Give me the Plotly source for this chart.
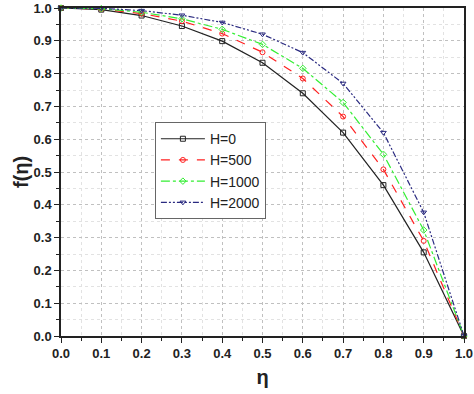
import plotly.graph_objects as go

eta = [0.0, 0.1, 0.2, 0.3, 0.4, 0.5, 0.6, 0.7, 0.8, 0.9, 1.0]
f_H0 = [1.0, 0.995, 0.977, 0.945, 0.899, 0.833, 0.740, 0.620, 0.460, 0.255, 0.0]
f_H500 = [1.0, 0.997, 0.983, 0.960, 0.922, 0.865, 0.785, 0.669, 0.508, 0.290, 0.0]
f_H1000 = [1.0, 0.998, 0.987, 0.967, 0.935, 0.889, 0.816, 0.712, 0.554, 0.323, 0.0]
f_H2000 = [1.0, 0.999, 0.992, 0.978, 0.956, 0.920, 0.864, 0.770, 0.620, 0.377, 0.0]

names = ["H=0", "H=500", "H=1000", "H=2000"]
series = [f_H0, f_H500, f_H1000, f_H2000]
colors = ["#222222", "#ff2020", "#33ee33", "#2a2a80"]
dashes = ["solid", "dash", "dashdot", "6px,2px,2px,2px,2px,2px"]
symbols = ["square-open", "circle-open", "diamond-open", "triangle-down-open"]

fig = go.Figure()
for n, s, c, d, sym in zip(names, series, colors, dashes, symbols):
    fig.add_trace(go.Scatter(
        x=eta, y=s, name=n, mode="lines+markers", cliponaxis=False,
        line=dict(color=c, width=1.2, dash=d),
        marker=dict(symbol=sym, size=5, color=c, line=dict(width=1, color=c)),
    ))

axis_common = dict(
    range=[0, 1], dtick=0.1, tick0=0, tickformat=".1f",
    showline=True, linecolor="#222222", linewidth=1.5, mirror=True,
    ticks="outside", ticklen=5, tickwidth=1.2, tickcolor="#222222",
    showgrid=True, gridcolor="#c0c0c0", griddash="dot", gridwidth=1,
    zeroline=False,
    tickfont=dict(family="Arial, Liberation Sans", size=13, color="#222222", weight="bold"),
    minor=dict(dtick=0.05, ticks="outside", ticklen=3, tickcolor="#222222",
               showgrid=True, gridcolor="#e2e2e2", griddash="dot", gridwidth=1),
)

fig.update_xaxes(**axis_common, automargin=False,
                 title=dict(text="η", font=dict(family="Liberation Sans, Arial", size=20, color="#222222", weight="bold"), standoff=10))
fig.update_yaxes(**axis_common, automargin=False,
                 title=dict(text="f(η)", font=dict(family="Liberation Sans, Arial", size=20, color="#222222", weight="bold"), standoff=0))

fig.update_layout(
    width=474, height=394,
    margin=dict(l=61, r=10, t=8, b=58),
    paper_bgcolor="white", plot_bgcolor="white",
    showlegend=True,
    legend=dict(
        x=0.233, y=0.652, xanchor="left", yanchor="top",
        bgcolor="white", bordercolor="#666666", borderwidth=1,
        font=dict(family="Arial, Liberation Sans", size=14, color="#222222"),
        tracegroupgap=0, itemwidth=44,
    ),
)

fig.write_html("out.html", config={"displayModeBar": False},
               post_script="document.body.style.margin='0';document.body.style.overflow='hidden';")
